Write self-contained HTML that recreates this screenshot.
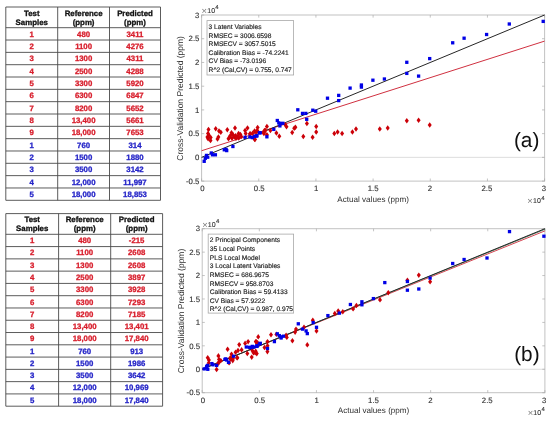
<!DOCTYPE html>
<html lang="en">
<head>
<meta charset="utf-8">
<title>Calibration comparison</title>
<style>
html,body{margin:0;padding:0;background:#fff;}
body{width:550px;height:421px;overflow:hidden;font-family:"Liberation Sans",sans-serif;}
svg{display:block;}
svg text{font-family:"Liberation Sans",sans-serif;text-rendering:geometricPrecision;}
.tk text,text.tk{font-size:7.8px;fill:#333;stroke:#333;stroke-width:0.12px;}
text.ex{font-size:7px;}
.al{font-size:8.1px;fill:#2e2e2e;}
.yl{font-size:8.5px;}
.lg text{font-size:6.63px;fill:#1c1c1c;stroke:#1c1c1c;stroke-width:0.15px;}
.pl{font-size:20.8px;fill:#111;}
.th text{font-size:7.85px;font-weight:bold;fill:#111;stroke:#111;stroke-width:0.3px;}
.td text{font-size:7.8px;font-weight:bold;stroke-width:0.3px;}
</style>
</head>
<body>
<svg width="550" height="421" viewBox="0 0 550 421">
<rect width="550" height="421" fill="#fff"/>
<!-- table a -->
<path d="M5.8 7.0H160.5M5.8 27.7H160.5M5.8 40.03H160.5M5.8 52.36H160.5M5.8 64.69H160.5M5.8 77.01H160.5M5.8 89.34H160.5M5.8 101.67H160.5M5.8 114.00H160.5M5.8 126.33H160.5M5.8 138.66H160.5M5.8 150.99H160.5M5.8 163.31H160.5M5.8 175.64H160.5M5.8 187.97H160.5M5.8 200.30H160.5M5.8 7.0V200.3M57.7 7.0V200.3M109.5 7.0V200.3M160.5 7.0V200.3" stroke="#4a4a4a" stroke-width="0.9" fill="none"/>
<g class="th" text-anchor="middle">
<text x="31.75" y="15.65">Test</text><text x="31.75" y="24.55">Samples</text>
<text x="83.60" y="15.65">Reference</text><text x="83.60" y="24.55">(ppm)</text>
<text x="135.00" y="15.65">Predicted</text><text x="135.00" y="24.55">(ppm)</text>
</g>
<g class="td" text-anchor="middle" fill="#d81e2c" stroke="#d81e2c"><text x="31.75" y="36.56">1</text><text x="83.60" y="36.56">480</text><text x="135.00" y="36.56">3411</text></g>
<g class="td" text-anchor="middle" fill="#d81e2c" stroke="#d81e2c"><text x="31.75" y="48.89">2</text><text x="83.60" y="48.89">1100</text><text x="135.00" y="48.89">4276</text></g>
<g class="td" text-anchor="middle" fill="#d81e2c" stroke="#d81e2c"><text x="31.75" y="61.22">3</text><text x="83.60" y="61.22">1300</text><text x="135.00" y="61.22">4311</text></g>
<g class="td" text-anchor="middle" fill="#d81e2c" stroke="#d81e2c"><text x="31.75" y="73.55">4</text><text x="83.60" y="73.55">2500</text><text x="135.00" y="73.55">4288</text></g>
<g class="td" text-anchor="middle" fill="#d81e2c" stroke="#d81e2c"><text x="31.75" y="85.88">5</text><text x="83.60" y="85.88">3300</text><text x="135.00" y="85.88">5920</text></g>
<g class="td" text-anchor="middle" fill="#d81e2c" stroke="#d81e2c"><text x="31.75" y="98.21">6</text><text x="83.60" y="98.21">6300</text><text x="135.00" y="98.21">6847</text></g>
<g class="td" text-anchor="middle" fill="#d81e2c" stroke="#d81e2c"><text x="31.75" y="110.54">7</text><text x="83.60" y="110.54">8200</text><text x="135.00" y="110.54">5652</text></g>
<g class="td" text-anchor="middle" fill="#d81e2c" stroke="#d81e2c"><text x="31.75" y="122.86">8</text><text x="83.60" y="122.86">13,400</text><text x="135.00" y="122.86">5661</text></g>
<g class="td" text-anchor="middle" fill="#d81e2c" stroke="#d81e2c"><text x="31.75" y="135.19">9</text><text x="83.60" y="135.19">18,000</text><text x="135.00" y="135.19">7653</text></g>
<g class="td" text-anchor="middle" fill="#2626c8" stroke="#2626c8"><text x="31.75" y="147.52">1</text><text x="83.60" y="147.52">760</text><text x="135.00" y="147.52">314</text></g>
<g class="td" text-anchor="middle" fill="#2626c8" stroke="#2626c8"><text x="31.75" y="159.85">2</text><text x="83.60" y="159.85">1500</text><text x="135.00" y="159.85">1880</text></g>
<g class="td" text-anchor="middle" fill="#2626c8" stroke="#2626c8"><text x="31.75" y="172.18">3</text><text x="83.60" y="172.18">3500</text><text x="135.00" y="172.18">3142</text></g>
<g class="td" text-anchor="middle" fill="#2626c8" stroke="#2626c8"><text x="31.75" y="184.51">4</text><text x="83.60" y="184.51">12,000</text><text x="135.00" y="184.51">11,997</text></g>
<g class="td" text-anchor="middle" fill="#2626c8" stroke="#2626c8"><text x="31.75" y="196.84">5</text><text x="83.60" y="196.84">18,000</text><text x="135.00" y="196.84">18,853</text></g>
<!-- table b -->
<path d="M5.8 213.6H162.6M5.8 234.3H162.6M5.8 246.58H162.6M5.8 258.86H162.6M5.8 271.14H162.6M5.8 283.41H162.6M5.8 295.69H162.6M5.8 307.97H162.6M5.8 320.25H162.6M5.8 332.53H162.6M5.8 344.81H162.6M5.8 357.09H162.6M5.8 369.36H162.6M5.8 381.64H162.6M5.8 393.92H162.6M5.8 406.20H162.6M5.8 213.6V406.2M58.6 213.6V406.2M110.7 213.6V406.2M162.6 213.6V406.2" stroke="#4a4a4a" stroke-width="0.9" fill="none"/>
<g class="th" text-anchor="middle">
<text x="32.20" y="222.25">Test</text><text x="32.20" y="231.15">Samples</text>
<text x="84.65" y="222.25">Reference</text><text x="84.65" y="231.15">(ppm)</text>
<text x="136.65" y="222.25">Predicted</text><text x="136.65" y="231.15">(ppm)</text>
</g>
<g class="td" text-anchor="middle" fill="#d81e2c" stroke="#d81e2c"><text x="32.20" y="243.14">1</text><text x="84.65" y="243.14">480</text><text x="136.65" y="243.14">-215</text></g>
<g class="td" text-anchor="middle" fill="#d81e2c" stroke="#d81e2c"><text x="32.20" y="255.42">2</text><text x="84.65" y="255.42">1100</text><text x="136.65" y="255.42">2608</text></g>
<g class="td" text-anchor="middle" fill="#d81e2c" stroke="#d81e2c"><text x="32.20" y="267.70">3</text><text x="84.65" y="267.70">1300</text><text x="136.65" y="267.70">2608</text></g>
<g class="td" text-anchor="middle" fill="#d81e2c" stroke="#d81e2c"><text x="32.20" y="279.97">4</text><text x="84.65" y="279.97">2500</text><text x="136.65" y="279.97">3897</text></g>
<g class="td" text-anchor="middle" fill="#d81e2c" stroke="#d81e2c"><text x="32.20" y="292.25">5</text><text x="84.65" y="292.25">3300</text><text x="136.65" y="292.25">3928</text></g>
<g class="td" text-anchor="middle" fill="#d81e2c" stroke="#d81e2c"><text x="32.20" y="304.53">6</text><text x="84.65" y="304.53">6300</text><text x="136.65" y="304.53">7293</text></g>
<g class="td" text-anchor="middle" fill="#d81e2c" stroke="#d81e2c"><text x="32.20" y="316.81">7</text><text x="84.65" y="316.81">8200</text><text x="136.65" y="316.81">7185</text></g>
<g class="td" text-anchor="middle" fill="#d81e2c" stroke="#d81e2c"><text x="32.20" y="329.09">8</text><text x="84.65" y="329.09">13,400</text><text x="136.65" y="329.09">13,401</text></g>
<g class="td" text-anchor="middle" fill="#d81e2c" stroke="#d81e2c"><text x="32.20" y="341.37">9</text><text x="84.65" y="341.37">18,000</text><text x="136.65" y="341.37">17,840</text></g>
<g class="td" text-anchor="middle" fill="#2626c8" stroke="#2626c8"><text x="32.20" y="353.65">1</text><text x="84.65" y="353.65">760</text><text x="136.65" y="353.65">913</text></g>
<g class="td" text-anchor="middle" fill="#2626c8" stroke="#2626c8"><text x="32.20" y="365.93">2</text><text x="84.65" y="365.93">1500</text><text x="136.65" y="365.93">1986</text></g>
<g class="td" text-anchor="middle" fill="#2626c8" stroke="#2626c8"><text x="32.20" y="378.20">3</text><text x="84.65" y="378.20">3500</text><text x="136.65" y="378.20">3642</text></g>
<g class="td" text-anchor="middle" fill="#2626c8" stroke="#2626c8"><text x="32.20" y="390.48">4</text><text x="84.65" y="390.48">12,000</text><text x="136.65" y="390.48">10,969</text></g>
<g class="td" text-anchor="middle" fill="#2626c8" stroke="#2626c8"><text x="32.20" y="402.76">5</text><text x="84.65" y="402.76">18,000</text><text x="136.65" y="402.76">17,840</text></g>
<!-- plot a -->
<line x1="201.6" y1="157.37" x2="544.6" y2="157.37" stroke="#cfcfcf" stroke-width="0.7"/>
<rect x="201.6" y="15.0" width="343.00" height="166.10" fill="none" stroke="#c2c2c2" stroke-width="1"/>
<path d="M201.60 181.1v-2.6M201.60 15.0v2.6M258.77 181.1v-2.6M258.77 15.0v2.6M315.93 181.1v-2.6M315.93 15.0v2.6M373.10 181.1v-2.6M373.10 15.0v2.6M430.27 181.1v-2.6M430.27 15.0v2.6M487.43 181.1v-2.6M487.43 15.0v2.6M544.60 181.1v-2.6M544.60 15.0v2.6M201.6 181.10h2.6M544.6 181.10h-2.6M201.6 157.37h2.6M544.6 157.37h-2.6M201.6 133.64h2.6M544.6 133.64h-2.6M201.6 109.91h2.6M544.6 109.91h-2.6M201.6 86.19h2.6M544.6 86.19h-2.6M201.6 62.46h2.6M544.6 62.46h-2.6M201.6 38.73h2.6M544.6 38.73h-2.6M201.6 15.00h2.6M544.6 15.00h-2.6" stroke="#aaa" stroke-width="0.7" fill="none"/>
<g class="tk" text-anchor="middle">
<text x="202.30" y="191.10">0</text>
<text x="259.22" y="191.10">0.5</text>
<text x="316.13" y="191.10">1</text>
<text x="373.05" y="191.10">1.5</text>
<text x="429.97" y="191.10">2</text>
<text x="486.88" y="191.10">2.5</text>
<text x="543.80" y="191.10">3</text>
</g><g class="tk" text-anchor="end">
<text x="199.40" y="183.80">-0.5</text>
<text x="199.40" y="160.07">0</text>
<text x="199.40" y="136.34">0.5</text>
<text x="199.40" y="112.61">1</text>
<text x="199.40" y="88.89">1.5</text>
<text x="199.40" y="65.16">2</text>
<text x="199.40" y="41.43">2.5</text>
<text x="199.40" y="17.70">3</text>
</g>
<text class="tk ex" x="201.55" y="12.95"><tspan font-size="9.4" dy="1" fill="#777" stroke="none">×</tspan><tspan dy="-1" dx="0.23">10</tspan><tspan dy="-3.9" dx="0.3" font-size="5.9">4</tspan></text>
<text class="tk ex" x="527.35" y="203.40"><tspan font-size="9.4" dy="1" fill="#777" stroke="none">×</tspan><tspan dy="-1" dx="0.23">10</tspan><tspan dy="-3.9" dx="0.3" font-size="5.9">4</tspan></text>
<text class="al" text-anchor="middle" x="373.10" y="201.70">Actual values (ppm)</text>
<text class="al yl" text-anchor="middle" transform="translate(183.20 98.35) rotate(-90)">Cross-Validation Predicted (ppm)</text>
<line x1="201.6" y1="150.72742857142856" x2="544.6" y2="41.1" stroke="#d03040" stroke-width="1.0"/>
<line x1="201.6" y1="157.37142857142857" x2="544.6" y2="15.0" stroke="#262626" stroke-width="1.0"/>
<g fill="#cc0008"><path d="M208.5 126.8L210.5 129.5L208.5 132.2L206.5 129.5Z"/><path d="M207.4 134.2L209.4 137.0L207.4 139.8L205.4 137.0Z"/><path d="M208.9 132.4L210.9 135.2L208.9 137.9L206.9 135.2Z"/><path d="M210.7 134.8L212.7 137.6L210.7 140.3L208.7 137.6Z"/><path d="M210.5 137.8L212.5 140.5L210.5 143.2L208.5 140.5Z"/><path d="M208.1 136.1L210.1 138.8L208.1 141.6L206.1 138.8Z"/><path d="M208.0 130.8L210.0 133.5L208.0 136.2L206.0 133.5Z"/><path d="M215.7 125.9L217.7 128.7L215.7 131.4L213.7 128.7Z"/><path d="M219.0 128.2L221.0 131.0L219.0 133.8L217.0 131.0Z"/><path d="M220.8 129.4L222.8 132.2L220.8 134.9L218.8 132.2Z"/><path d="M218.4 134.2L220.4 137.0L218.4 139.8L216.4 137.0Z"/><path d="M217.5 136.2L219.5 139.0L217.5 141.8L215.5 139.0Z"/><path d="M227.3 127.1L229.3 129.8L227.3 132.6L225.3 129.8Z"/><path d="M235.0 125.2L237.0 128.0L235.0 130.8L233.0 128.0Z"/><path d="M231.5 130.1L233.5 132.8L231.5 135.6L229.5 132.8Z"/><path d="M230.3 133.1L232.3 135.8L230.3 138.6L228.3 135.8Z"/><path d="M228.5 136.1L230.5 138.8L228.5 141.6L226.5 138.8Z"/><path d="M232.0 135.4L234.0 138.2L232.0 140.9L230.0 138.2Z"/><path d="M234.4 134.2L236.4 137.0L234.4 139.8L232.4 137.0Z"/><path d="M235.6 133.1L237.6 135.8L235.6 138.6L233.6 135.8Z"/><path d="M238.6 130.7L240.6 133.4L238.6 136.2L236.6 133.4Z"/><path d="M240.4 131.8L242.4 134.6L240.4 137.3L238.4 134.6Z"/><path d="M247.5 125.2L249.5 128.0L247.5 130.8L245.5 128.0Z"/><path d="M245.1 127.7L247.1 130.4L245.1 133.2L243.1 130.4Z"/><path d="M245.7 130.7L247.7 133.4L245.7 136.2L243.7 133.4Z"/><path d="M249.9 131.2L251.9 134.0L249.9 136.8L247.9 134.0Z"/><path d="M254.6 128.2L256.6 131.0L254.6 133.8L252.6 131.0Z"/><path d="M257.6 124.8L259.6 127.5L257.6 130.2L255.6 127.5Z"/><path d="M254.6 136.6L256.6 139.3L254.6 142.1L252.6 139.3Z"/><path d="M256.2 129.1L258.2 131.8L256.2 134.6L254.2 131.8Z"/><path d="M255.0 136.8L257.0 139.5L255.0 142.2L253.0 139.5Z"/><path d="M266.9 123.8L268.9 126.5L266.9 129.2L264.9 126.5Z"/><path d="M264.5 127.8L266.5 130.6L264.5 133.3L262.5 130.6Z"/><path d="M263.9 130.8L265.9 133.6L263.9 136.3L261.9 133.6Z"/><path d="M266.9 132.1L268.9 134.8L266.9 137.6L264.9 134.8Z"/><path d="M270.4 127.8L272.4 130.6L270.4 133.3L268.4 130.6Z"/><path d="M276.4 130.2L278.4 133.0L276.4 135.8L274.4 133.0Z"/><path d="M279.3 133.4L281.3 136.2L279.3 138.9L277.3 136.2Z"/><path d="M285.3 122.0L287.3 124.7L285.3 127.5L283.3 124.7Z"/><path d="M286.5 124.0L288.5 126.8L286.5 129.6L284.5 126.8Z"/><path d="M295.4 124.5L297.4 127.3L295.4 130.1L293.4 127.3Z"/><path d="M294.2 125.6L296.2 128.3L294.2 131.1L292.2 128.3Z"/><path d="M292.2 129.7L294.2 132.4L292.2 135.2L290.2 132.4Z"/><path d="M306.9 120.8L308.9 123.5L306.9 126.2L304.9 123.5Z"/><path d="M303.3 133.8L305.3 136.6L303.3 139.3L301.3 136.6Z"/><path d="M312.6 134.4L314.6 137.2L312.6 139.9L310.6 137.2Z"/><path d="M316.2 123.8L318.2 126.6L316.2 129.3L314.2 126.6Z"/><path d="M316.2 129.3L318.2 132.1L316.2 134.8L314.2 132.1Z"/><path d="M250.2 131.1L252.2 133.8L250.2 136.6L248.2 133.8Z"/><path d="M252.6 130.6L254.6 133.3L252.6 136.1L250.6 133.3Z"/><path d="M257.3 127.8L259.3 130.6L257.3 133.3L255.3 130.6Z"/><path d="M263.5 129.8L265.5 132.5L263.5 135.2L261.5 132.5Z"/><path d="M265.4 127.7L267.4 130.4L265.4 133.2L263.4 130.4Z"/><path d="M236.0 135.4L238.0 138.2L236.0 140.9L234.0 138.2Z"/><path d="M238.8 135.2L240.8 138.0L238.8 140.8L236.8 138.0Z"/><path d="M241.2 133.8L243.2 136.6L241.2 139.3L239.2 136.6Z"/><path d="M236.5 134.2L238.5 137.0L236.5 139.8L234.5 137.0Z"/><path d="M238.0 133.6L240.0 136.3L238.0 139.1L236.0 136.3Z"/><path d="M233.0 132.1L235.0 134.8L233.0 137.6L231.0 134.8Z"/><path d="M229.5 134.6L231.5 137.3L229.5 140.1L227.5 137.3Z"/><path d="M334.3 130.8L336.3 133.5L334.3 136.2L332.3 133.5Z"/><path d="M337.6 129.2L339.6 132.0L337.6 134.8L335.6 132.0Z"/><path d="M342.1 130.8L344.1 133.5L342.1 136.2L340.1 133.5Z"/><path d="M352.4 129.2L354.4 132.0L352.4 134.8L350.4 132.0Z"/><path d="M356.0 126.3L358.0 129.1L356.0 131.8L354.0 129.1Z"/><path d="M379.8 126.2L381.8 128.9L379.8 131.7L377.8 128.9Z"/><path d="M387.7 125.3L389.7 128.1L387.7 130.8L385.7 128.1Z"/><path d="M406.8 118.0L408.8 120.7L406.8 123.5L404.8 120.7Z"/><path d="M418.6 117.5L420.6 120.2L418.6 123.0L416.6 120.2Z"/><path d="M429.7 122.2L431.7 125.0L429.7 127.8L427.7 125.0Z"/></g>
<g fill="#0000e6"><rect x="202.55" y="159.65" width="3.3" height="3.3"/><rect x="203.65" y="156.65" width="3.3" height="3.3"/><rect x="204.85" y="153.75" width="3.3" height="3.3"/><rect x="206.05" y="155.55" width="3.3" height="3.3"/><rect x="209.65" y="151.35" width="3.3" height="3.3"/><rect x="210.85" y="153.15" width="3.3" height="3.3"/><rect x="213.75" y="153.15" width="3.3" height="3.3"/><rect x="222.65" y="148.15" width="3.3" height="3.3"/><rect x="224.45" y="147.75" width="3.3" height="3.3"/><rect x="225.05" y="148.95" width="3.3" height="3.3"/><rect x="231.25" y="144.85" width="3.3" height="3.3"/><rect x="243.45" y="135.65" width="3.3" height="3.3"/><rect x="248.25" y="135.35" width="3.3" height="3.3"/><rect x="250.65" y="135.95" width="3.3" height="3.3"/><rect x="252.95" y="134.75" width="3.3" height="3.3"/><rect x="255.35" y="134.15" width="3.3" height="3.3"/><rect x="257.75" y="131.15" width="3.3" height="3.3"/><rect x="258.65" y="131.15" width="3.3" height="3.3"/><rect x="254.75" y="134.35" width="3.3" height="3.3"/><rect x="265.25" y="135.15" width="3.3" height="3.3"/><rect x="272.15" y="127.75" width="3.3" height="3.3"/><rect x="275.65" y="118.85" width="3.3" height="3.3"/><rect x="277.15" y="121.25" width="3.3" height="3.3"/><rect x="278.85" y="121.85" width="3.3" height="3.3"/><rect x="281.25" y="121.65" width="3.3" height="3.3"/><rect x="278.25" y="124.25" width="3.3" height="3.3"/><rect x="296.15" y="108.15" width="3.3" height="3.3"/><rect x="300.85" y="111.75" width="3.3" height="3.3"/><rect x="304.15" y="111.75" width="3.3" height="3.3"/><rect x="305.05" y="117.65" width="3.3" height="3.3"/><rect x="311.15" y="108.55" width="3.3" height="3.3"/><rect x="314.05" y="109.55" width="3.3" height="3.3"/><rect x="325.85" y="96.55" width="3.3" height="3.3"/><rect x="337.05" y="93.75" width="3.3" height="3.3"/><rect x="337.05" y="98.95" width="3.3" height="3.3"/><rect x="348.45" y="86.45" width="3.3" height="3.3"/><rect x="359.75" y="83.35" width="3.3" height="3.3"/><rect x="359.75" y="85.45" width="3.3" height="3.3"/><rect x="371.25" y="78.55" width="3.3" height="3.3"/><rect x="382.75" y="77.35" width="3.3" height="3.3"/><rect x="405.15" y="60.65" width="3.3" height="3.3"/><rect x="405.15" y="71.75" width="3.3" height="3.3"/><rect x="416.95" y="74.45" width="3.3" height="3.3"/><rect x="428.05" y="56.95" width="3.3" height="3.3"/><rect x="451.05" y="41.15" width="3.3" height="3.3"/><rect x="462.45" y="36.55" width="3.3" height="3.3"/><rect x="484.95" y="32.85" width="3.3" height="3.3"/><rect x="507.65" y="22.35" width="3.3" height="3.3"/><rect x="541.55" y="19.75" width="3.3" height="3.3"/></g>
<rect x="207.0" y="20.6" width="86.6" height="54.4" fill="#fff" stroke="#a8a8a8" stroke-width="0.8"/>
<g class="lg">
<text x="208.60" y="28.90">3 Latent Variables</text>
<text x="208.60" y="37.52">RMSEC = 3006.6598</text>
<text x="208.60" y="46.14">RMSECV = 3057.5015</text>
<text x="208.60" y="54.76">Calibration Bias = -74.2241</text>
<text x="208.60" y="63.38">CV Bias = -73.0196</text>
<text x="208.60" y="72.00">R^2 (Cal,CV) = 0.755, 0.747</text>
</g>
<text class="pl" x="513.9" y="146.7">(a)</text>
<!-- plot b -->
<line x1="202.2" y1="369.27" x2="544.9" y2="369.27" stroke="#cfcfcf" stroke-width="0.7"/>
<rect x="202.2" y="228.7" width="342.70" height="164.00" fill="none" stroke="#c2c2c2" stroke-width="1"/>
<path d="M202.20 392.7v-2.6M202.20 228.7v2.6M259.32 392.7v-2.6M259.32 228.7v2.6M316.43 392.7v-2.6M316.43 228.7v2.6M373.55 392.7v-2.6M373.55 228.7v2.6M430.67 392.7v-2.6M430.67 228.7v2.6M487.78 392.7v-2.6M487.78 228.7v2.6M544.90 392.7v-2.6M544.90 228.7v2.6M202.2 392.70h2.6M544.9 392.70h-2.6M202.2 369.27h2.6M544.9 369.27h-2.6M202.2 345.84h2.6M544.9 345.84h-2.6M202.2 322.41h2.6M544.9 322.41h-2.6M202.2 298.99h2.6M544.9 298.99h-2.6M202.2 275.56h2.6M544.9 275.56h-2.6M202.2 252.13h2.6M544.9 252.13h-2.6M202.2 228.70h2.6M544.9 228.70h-2.6" stroke="#aaa" stroke-width="0.7" fill="none"/>
<g class="tk" text-anchor="middle">
<text x="202.90" y="402.70">0</text>
<text x="259.77" y="402.70">0.5</text>
<text x="316.63" y="402.70">1</text>
<text x="373.50" y="402.70">1.5</text>
<text x="430.37" y="402.70">2</text>
<text x="487.23" y="402.70">2.5</text>
<text x="544.10" y="402.70">3</text>
</g><g class="tk" text-anchor="end">
<text x="200.00" y="395.40">-0.5</text>
<text x="200.00" y="371.97">0</text>
<text x="200.00" y="348.54">0.5</text>
<text x="200.00" y="325.11">1</text>
<text x="200.00" y="301.69">1.5</text>
<text x="200.00" y="278.26">2</text>
<text x="200.00" y="254.83">2.5</text>
<text x="200.00" y="231.40">3</text>
</g>
<text class="tk ex" x="202.15" y="226.65"><tspan font-size="9.4" dy="1" fill="#777" stroke="none">×</tspan><tspan dy="-1" dx="0.23">10</tspan><tspan dy="-3.9" dx="0.3" font-size="5.9">4</tspan></text>
<text class="tk ex" x="527.65" y="415.00"><tspan font-size="9.4" dy="1" fill="#777" stroke="none">×</tspan><tspan dy="-1" dx="0.23">10</tspan><tspan dy="-3.9" dx="0.3" font-size="5.9">4</tspan></text>
<text class="al" text-anchor="middle" x="373.55" y="413.30">Actual values (ppm)</text>
<text class="al yl" text-anchor="middle" transform="translate(183.80 311.00) rotate(-90)">Cross-Validation Predicted (ppm)</text>
<line x1="202.2" y1="368.97142857142853" x2="544.9" y2="230.89999999999998" stroke="#d03040" stroke-width="0.9"/>
<line x1="202.2" y1="369.07142857142856" x2="544.9" y2="229.29999999999998" stroke="#2f6b45" stroke-width="0.8"/>
<line x1="202.2" y1="369.27142857142854" x2="544.9" y2="228.7" stroke="#262626" stroke-width="1.0"/>
<g fill="#cc0008"><path d="M207.7 354.9L209.7 357.7L207.7 360.4L205.7 357.7Z"/><path d="M208.9 357.2L210.9 360.0L208.9 362.8L206.9 360.0Z"/><path d="M216.6 366.8L218.6 369.5L216.6 372.2L214.6 369.5Z"/><path d="M218.4 353.1L220.4 355.9L218.4 358.6L216.4 355.9Z"/><path d="M219.0 356.6L221.0 359.4L219.0 362.1L217.0 359.4Z"/><path d="M220.8 357.9L222.8 360.6L220.8 363.4L218.8 360.6Z"/><path d="M227.6 346.6L229.6 349.3L227.6 352.1L225.6 349.3Z"/><path d="M231.5 351.4L233.5 354.1L231.5 356.9L229.5 354.1Z"/><path d="M230.3 354.9L232.3 357.7L230.3 360.4L228.3 357.7Z"/><path d="M232.7 357.9L234.7 360.6L232.7 363.4L230.7 360.6Z"/><path d="M235.6 349.6L237.6 352.3L235.6 355.1L233.6 352.3Z"/><path d="M237.4 354.9L239.4 357.7L237.4 360.4L235.4 357.7Z"/><path d="M238.0 347.8L240.0 350.5L238.0 353.2L236.0 350.5Z"/><path d="M239.2 341.9L241.2 344.6L239.2 347.4L237.2 344.6Z"/><path d="M241.6 347.1L243.6 349.9L241.6 352.6L239.6 349.9Z"/><path d="M245.1 340.6L247.1 343.4L245.1 346.1L243.1 343.4Z"/><path d="M248.1 338.9L250.1 341.6L248.1 344.4L246.1 341.6Z"/><path d="M247.3 350.8L249.3 353.5L247.3 356.2L245.3 353.5Z"/><path d="M251.7 354.4L253.7 357.1L251.7 359.9L249.7 357.1Z"/><path d="M252.3 347.8L254.3 350.5L252.3 353.2L250.3 350.5Z"/><path d="M255.2 350.1L257.2 352.9L255.2 355.6L253.2 352.9Z"/><path d="M255.8 338.9L257.8 341.6L255.8 344.4L253.8 341.6Z"/><path d="M258.2 334.1L260.2 336.9L258.2 339.6L256.2 336.9Z"/><path d="M257.6 340.1L259.6 342.8L257.6 345.6L255.6 342.8Z"/><path d="M256.2 338.9L258.2 341.6L256.2 344.4L254.2 341.6Z"/><path d="M267.5 338.9L269.5 341.6L267.5 344.4L265.5 341.6Z"/><path d="M264.5 344.8L266.5 347.5L264.5 350.2L262.5 347.5Z"/><path d="M267.5 342.9L269.5 345.7L267.5 348.4L265.5 345.7Z"/><path d="M271.0 332.1L273.0 334.8L271.0 337.6L269.0 334.8Z"/><path d="M276.4 331.6L278.4 334.4L276.4 337.1L274.4 334.4Z"/><path d="M286.1 332.6L288.1 335.3L286.1 338.1L284.1 335.3Z"/><path d="M286.8 334.6L288.8 337.4L286.8 340.1L284.8 337.4Z"/><path d="M292.4 337.9L294.4 340.7L292.4 343.4L290.4 340.7Z"/><path d="M296.0 326.4L298.0 329.1L296.0 331.9L294.0 329.1Z"/><path d="M295.1 329.4L297.1 332.1L295.1 334.9L293.1 332.1Z"/><path d="M304.0 324.6L306.0 327.3L304.0 330.1L302.0 327.3Z"/><path d="M307.3 342.1L309.3 344.9L307.3 347.6L305.3 344.9Z"/><path d="M312.8 317.4L314.8 320.2L312.8 322.9L310.8 320.2Z"/><path d="M316.5 328.2L318.5 331.0L316.5 333.8L314.5 331.0Z"/><path d="M253.5 350.1L255.5 352.8L253.5 355.6L251.5 352.8Z"/><path d="M256.8 350.9L258.8 353.6L256.8 356.4L254.8 353.6Z"/><path d="M208.7 360.1L210.7 362.9L208.7 365.6L206.7 362.9Z"/><path d="M219.1 359.2L221.1 362.0L219.1 364.8L217.1 362.0Z"/><path d="M217.9 360.9L219.9 363.7L217.9 366.4L215.9 363.7Z"/><path d="M229.1 360.1L231.1 362.9L229.1 365.6L227.1 362.9Z"/><path d="M233.0 355.9L235.0 358.7L233.0 361.4L231.0 358.7Z"/><path d="M230.6 356.4L232.6 359.2L230.6 361.9L228.6 359.2Z"/><path d="M267.4 348.9L269.4 351.6L267.4 354.4L265.4 351.6Z"/><path d="M255.7 348.4L257.7 351.2L255.7 353.9L253.7 351.2Z"/><path d="M237.0 355.1L239.0 357.9L237.0 360.6L235.0 357.9Z"/><path d="M334.8 310.8L336.8 313.5L334.8 316.2L332.8 313.5Z"/><path d="M338.2 308.2L340.2 311.0L338.2 313.8L336.2 311.0Z"/><path d="M342.8 308.9L344.8 311.7L342.8 314.4L340.8 311.7Z"/><path d="M353.1 306.1L355.1 308.9L353.1 311.6L351.1 308.9Z"/><path d="M356.4 302.8L358.4 305.5L356.4 308.2L354.4 305.5Z"/><path d="M380.0 297.1L382.0 299.9L380.0 302.6L378.0 299.9Z"/><path d="M388.3 289.9L390.3 292.6L388.3 295.4L386.3 292.6Z"/><path d="M407.4 277.4L409.4 280.2L407.4 282.9L405.4 280.2Z"/><path d="M418.8 272.4L420.8 275.1L418.8 277.9L416.8 275.1Z"/><path d="M430.1 279.1L432.1 281.8L430.1 284.6L428.1 281.8Z"/></g>
<g fill="#0000e6"><rect x="205.05" y="364.65" width="3.3" height="3.3"/><rect x="206.15" y="367.65" width="3.3" height="3.3"/><rect x="224.15" y="357.25" width="3.3" height="3.3"/><rect x="250.65" y="344.75" width="3.3" height="3.3"/><rect x="247.85" y="345.65" width="3.3" height="3.3"/><rect x="202.55" y="367.25" width="3.3" height="3.3"/><rect x="204.85" y="366.15" width="3.3" height="3.3"/><rect x="206.05" y="363.75" width="3.3" height="3.3"/><rect x="210.25" y="361.95" width="3.3" height="3.3"/><rect x="211.35" y="363.15" width="3.3" height="3.3"/><rect x="214.95" y="363.75" width="3.3" height="3.3"/><rect x="223.25" y="357.75" width="3.3" height="3.3"/><rect x="225.05" y="358.35" width="3.3" height="3.3"/><rect x="226.85" y="360.75" width="3.3" height="3.3"/><rect x="231.95" y="354.55" width="3.3" height="3.3"/><rect x="244.65" y="345.35" width="3.3" height="3.3"/><rect x="249.45" y="345.95" width="3.3" height="3.3"/><rect x="252.35" y="345.35" width="3.3" height="3.3"/><rect x="255.35" y="344.75" width="3.3" height="3.3"/><rect x="257.75" y="342.35" width="3.3" height="3.3"/><rect x="258.65" y="341.65" width="3.3" height="3.3"/><rect x="255.15" y="344.05" width="3.3" height="3.3"/><rect x="265.85" y="346.85" width="3.3" height="3.3"/><rect x="272.75" y="339.95" width="3.3" height="3.3"/><rect x="275.65" y="332.15" width="3.3" height="3.3"/><rect x="277.65" y="333.95" width="3.3" height="3.3"/><rect x="279.45" y="335.15" width="3.3" height="3.3"/><rect x="281.85" y="334.55" width="3.3" height="3.3"/><rect x="279.45" y="336.35" width="3.3" height="3.3"/><rect x="296.65" y="322.15" width="3.3" height="3.3"/><rect x="300.85" y="327.45" width="3.3" height="3.3"/><rect x="304.45" y="329.25" width="3.3" height="3.3"/><rect x="305.65" y="331.95" width="3.3" height="3.3"/><rect x="311.55" y="320.95" width="3.3" height="3.3"/><rect x="314.85" y="325.65" width="3.3" height="3.3"/><rect x="326.25" y="313.95" width="3.3" height="3.3"/><rect x="337.75" y="311.45" width="3.3" height="3.3"/><rect x="348.75" y="302.85" width="3.3" height="3.3"/><rect x="360.25" y="300.15" width="3.3" height="3.3"/><rect x="360.25" y="303.15" width="3.3" height="3.3"/><rect x="371.75" y="296.95" width="3.3" height="3.3"/><rect x="383.15" y="280.95" width="3.3" height="3.3"/><rect x="405.75" y="279.85" width="3.3" height="3.3"/><rect x="405.75" y="288.55" width="3.3" height="3.3"/><rect x="417.15" y="287.35" width="3.3" height="3.3"/><rect x="428.45" y="276.45" width="3.3" height="3.3"/><rect x="451.05" y="261.85" width="3.3" height="3.3"/><rect x="462.45" y="257.85" width="3.3" height="3.3"/><rect x="485.35" y="256.35" width="3.3" height="3.3"/><rect x="507.85" y="229.95" width="3.3" height="3.3"/><rect x="542.25" y="234.55" width="3.3" height="3.3"/></g>
<rect x="208.2" y="234.1" width="85.4" height="79.0" fill="#fff" stroke="#a8a8a8" stroke-width="0.8"/>
<g class="lg">
<text x="209.80" y="242.40">2 Principal Components</text>
<text x="209.80" y="251.02">35 Local Points</text>
<text x="209.80" y="259.64">PLS Local Model</text>
<text x="209.80" y="268.26">3 Local Latent Variables</text>
<text x="209.80" y="276.88">RMSEC = 686.9675</text>
<text x="209.80" y="285.50">RMSECV = 958.8703</text>
<text x="209.80" y="294.12">Calibration Bias = 59.4133</text>
<text x="209.80" y="302.74">CV Bias = 57.9222</text>
<text x="209.80" y="311.36">R^2 (Cal,CV) = 0.987, 0.975</text>
</g>
<text class="pl" x="514.2" y="360.6">(b)</text>
</svg>
</body>
</html>
